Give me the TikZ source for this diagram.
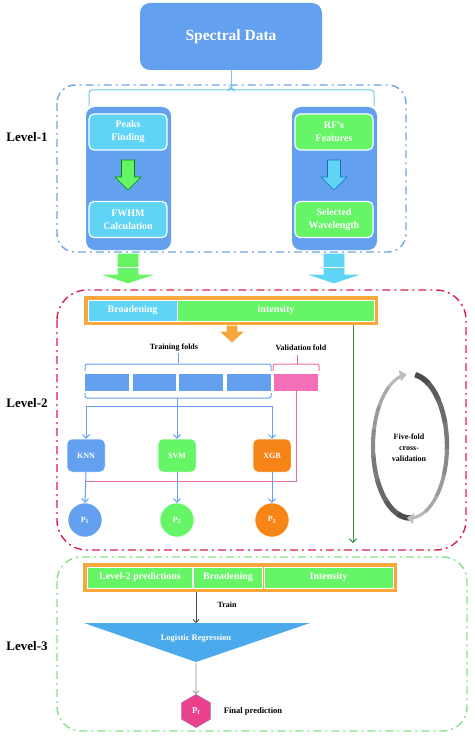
\documentclass[tikz,border=0pt]{standalone}
\usepackage{fontspec}
\setmainfont{Liberation Serif}
\usetikzlibrary{arrows.meta,shapes.geometric}
\definecolor{cblue}{RGB}{100,160,240}
\definecolor{ccyan}{RGB}{95,212,245}
\definecolor{cgreen}{RGB}{102,245,102}
\definecolor{corange}{RGB}{247,132,22}
\definecolor{cbar}{RGB}{247,168,60}
\definecolor{cpink}{RGB}{245,112,185}
\definecolor{cpinkline}{RGB}{232,110,150}
\definecolor{cred}{RGB}{222,30,70}
\definecolor{cl1}{RGB}{110,165,230}
\definecolor{cl3}{RGB}{135,225,135}
\definecolor{cbrace}{RGB}{110,200,235}
\definecolor{cdgreen}{RGB}{60,140,60}
\definecolor{clogit}{RGB}{75,170,235}
\definecolor{chex}{RGB}{235,65,140}
\newcommand\blockarr[8]{\filldraw[fill=#7,draw=#8,line width=0.6pt] (#1-#5,#2)--(#1+#5,#2)--(#1+#5,#3)--(#1+#6,#3)--(#1,#4)--(#1-#6,#3)--(#1-#5,#3)--cycle;}
\tikzset{
  wtxt/.style={text=white,font=\bfseries\fontsize{10}{13}\selectfont,align=center,inner sep=0pt},
  colbox/.style={fill=cblue,rounded corners=9pt,minimum width=85pt,minimum height=143pt,inner sep=0pt},
  inbox/.style={wtxt,draw=white,line width=1.2pt,rounded corners=5pt,minimum width=78pt,minimum height=36pt},
  lvl/.style={font=\bfseries\fontsize{13}{15}\selectfont,inner sep=0pt},
  dashdot/.style={line width=1.4pt,dash pattern=on 8pt off 4pt on 2pt off 4pt},
  seg/.style={wtxt,draw=white,line width=0.8pt,minimum height=21pt,inner sep=0pt},
  fold/.style={fill=cblue,minimum height=17pt,inner sep=0pt},
  model/.style={wtxt,font=\bfseries\fontsize{8}{9}\selectfont,rounded corners=5pt,minimum width=38pt,minimum height=33pt,draw=white,line width=0.5pt},
  pcirc/.style={wtxt,font=\bfseries\fontsize{8}{9}\selectfont,circle,minimum size=34pt,draw=white,line width=0.5pt},
  small/.style={font=\bfseries\fontsize{8}{11}\selectfont,inner sep=0pt,align=center},
  barr/.style={cblue,line width=1pt,-{Straight Barb[length=3.5pt,width=7pt]}},
  garr/.style={black!70,line width=0.8pt,-{Straight Barb[length=3pt,width=6pt]}},
}
\begin{document}
\begin{tikzpicture}[x=1pt,y=-1pt]
\useasboundingbox (0,0) rectangle (474,738);
% ---------- Spectral data
\node[wtxt,fill=cblue,rounded corners=10pt,minimum width=182pt,minimum height=67pt,font=\bfseries\fontsize{15.5}{17}\selectfont] (spec) at (231,36.5) {Spectral Data};
% ---------- Level-1
\draw[cl1,dashdot,rounded corners=18pt] (57,85) rectangle (406,252);
\node[lvl] (l1) at (27,137) {Level-1};
\node[colbox] (lcol) at (128.5,178.5) {};
\node[colbox] (rcol) at (334.5,178.5) {};
\node[inbox,fill=ccyan] (peaks) at (128,132) {Peaks\\Finding};
\node[inbox,fill=ccyan] (fwhm) at (128,219.5) {FWHM\\Calculation};
\node[inbox,fill=cgreen] (rf) at (334,132) {RF's\\Features};
\node[inbox,fill=cgreen] (sel) at (334,219.5) {Selected\\Wavelength};
\blockarr{128}{160}{177}{190}{6.5}{13}{cgreen}{green!55!black}
\blockarr{334}{160}{177}{190}{6.5}{13}{ccyan}{cyan!50!blue}
% brace from spectral data
\coordinate (bl) at (89,106);
\coordinate (br) at (374,106);
\draw[cbrace,line width=1pt] (spec.south) -- (231,89);
\draw[cbrace,line width=1pt,rounded corners=3pt] (bl) -- (89,90) -- (229,90) -- (231,88) -- (233,90) -- (374,90) -- (br);
% big arrows out of level-1
\blockarr{128}{254}{275}{283}{10}{24}{cgreen}{cgreen}
\blockarr{334}{254}{275}{283}{10}{24}{ccyan}{ccyan}
\draw[white,line width=0.8pt] (118,267) -- (138,267) (324,267) -- (344,267);
% ---------- Level-2
\draw[cred,dashdot,rounded corners=30pt] (57,290) rectangle (466,550);
\node[lvl] (l2) at (27,403) {Level-2};
\fill[cbar] (84,296) rectangle (378,325);
\node[seg,fill=ccyan,minimum width=89pt] (broad) at (132.5,310.5) {Broadening};
\node[seg,fill=cgreen,minimum width=197pt] (inten) at (276,310.5) {intensity};
\blockarr{232}{326}{332}{342}{5}{11}{cbar}{cbar}
\node[small] (tf) at (174,348) {Training folds};
\node[small] (vf) at (301,348) {Validation fold};
% braces
\draw[cblue,line width=1pt] (178,353) -- (178,363);
\draw[cblue,line width=1pt,rounded corners=2pt] (85,371) -- (85,364) -- (271,364) -- (271,371);
\draw[cpinkline,line width=1pt] (297,355) -- (297,364);
\draw[cpinkline,line width=1pt,rounded corners=2pt] (273,371) -- (273,364) -- (319,364) -- (319,371);
\node[fold,minimum width=44pt] (f1) at (107,382.5) {};
\node[fold,minimum width=43pt] (f2) at (154.5,382.5) {};
\node[fold,minimum width=44pt] (f3) at (201,382.5) {};
\node[fold,minimum width=44pt] (f4) at (249,382.5) {};
\node[fold,fill=cpink,minimum width=44pt] (fv) at (296,382.5) {};
\draw[cblue,line width=1pt,rounded corners=2pt] (85,393) -- (85,398) -- (271,398) -- (271,393);
\coordinate (split) at (177,406);
\draw[cblue,line width=1pt] (177,398) -- (split);
% models
\node[model,fill=cblue] (knn) at (86,455.5) {KNN};
\node[model,fill=cgreen] (svm) at (177,455.5) {SVM};
\node[model,fill=corange] (xgb) at (272,455.5) {XGB};
\draw[barr] (split) -| (knn.north);
\draw[barr] (split) -- (svm.north);
\draw[barr] (split) -| (xgb.north);
% pink validation line
\coordinate (pk) at (85,481);
\draw[cpinkline,line width=1pt] (fv.south) |- (pk);
% predictions
\node[pcirc,fill=cblue] (p1) at (85,520) {P\textsubscript{1}};
\node[pcirc,fill=cgreen] (p2) at (177,520) {P\textsubscript{2}};
\node[pcirc,fill=corange] (p3) at (272,520) {P\textsubscript{3}};
\draw[barr] (knn.south) -- (p1.north);
\draw[barr] (svm.south) -- (p2.north);
\draw[barr] (xgb.south) -- (p3.north);
% green line
\coordinate (gend) at (353,543);
\draw[cdgreen,line width=1pt,-{Straight Barb[length=3.5pt,width=7pt]}] (353,325) -- (gend);
% circular arrows
\foreach \k in {0,...,7} {
  \pgfmathsetmacro\aa{88+21*\k}
  \pgfmathsetmacro\ab{88+21*(\k+1)+1}
  \pgfmathsetmacro\sh{70-6*\k}
  \pgfmathsetmacro\lw{5.5-0.35*\k}
  \draw[line width=\lw pt,draw=black!\sh] plot[domain=\aa:\ab,samples=6] ({410+37*cos(\x)},{446+72*sin(\x)});
  \pgfmathsetmacro\ca{278+21*\k}
  \pgfmathsetmacro\cb{278+21*(\k+1)+1}
  \draw[line width=\lw pt,draw=black!\sh] plot[domain=\ca:\cb,samples=6] ({410+37*cos(\x)},{446+72*sin(\x)});
}
\draw[line width=2.6pt,draw=black!25,-{Triangle[length=7pt,width=11pt]}] plot[domain=256:265,samples=4] ({410+37*cos(\x)},{446+72*sin(\x)});
\draw[line width=2.6pt,draw=black!25,-{Triangle[length=7pt,width=11pt]}] plot[domain=446:455,samples=4] ({410+37*cos(\x)},{446+72*sin(\x)});
\node[small] (ff) at (409,448) {Five-fold\\cross-\\validation};
% ---------- Level-3
\draw[cl3,dashdot,rounded corners=24pt] (57,557) rectangle (467,731);
\node[lvl] (l3) at (27,646) {Level-3};
\fill[cbar] (83,563) rectangle (397,592);
\node[seg,fill=cgreen,minimum width=105pt] (lp) at (140,577.5) {Level-2 predictions};
\node[seg,fill=cgreen,minimum width=69pt] (b3) at (228,577.5) {Broadening};
\node[seg,fill=cgreen,minimum width=129pt] (i3) at (328.5,577.5) {Intensity};
\node[small] (train) at (227,605) {Train};
\coordinate (bartop) at (196,592);
\fill[clogit] (84,623) -- (310,623) -- (196,662) -- cycle;
\node[wtxt,font=\bfseries\fontsize{8.5}{10}\selectfont] (lrt) at (196,638) {Logistic Regression};
\coordinate (lrtop) at (196,623);
\coordinate (lrapex) at (196,663);
\draw[garr] (bartop) -- (lrtop);
\node[regular polygon,regular polygon sides=6,shape border rotate=90,fill=chex,draw=violet!60,line width=0.6pt,minimum size=33pt,inner sep=0pt,wtxt,font=\bfseries\fontsize{9}{10}\selectfont] (pf) at (196,711) {P\textsubscript{f}};
\draw[garr,black!45] (lrapex) -- (pf.north);
\node[small,font=\bfseries\fontsize{8.5}{10}\selectfont] (fp) at (253,711) {Final prediction};
\end{tikzpicture}
\end{document}
